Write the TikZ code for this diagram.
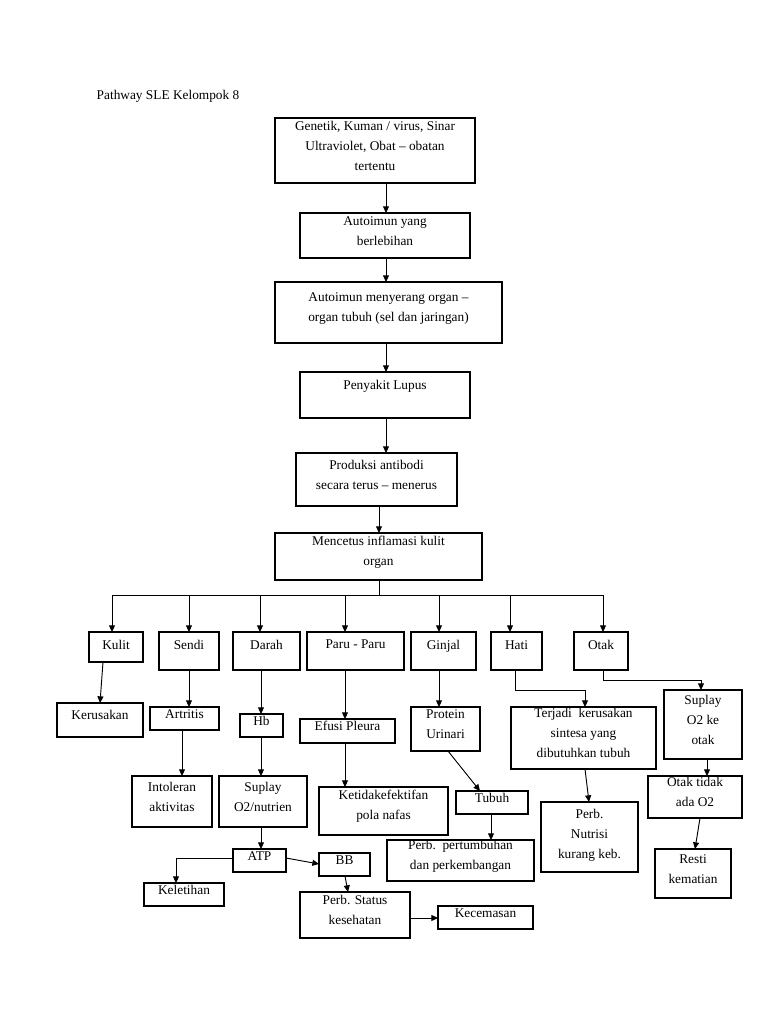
\documentclass[tikz,border=0pt]{standalone}
\usepackage{fontspec}
\setmainfont{Liberation Serif}
\usetikzlibrary{fit,arrows.meta}
\newcommand{\mybox}[6]{\node[bx, fit={(#2,#3)(#4,#5)}] (#1) {#6};}
\newcommand{\topbox}[6]{\node[bx, fit={(#2,#3)(#4,#5)}, label={[anchor=north,yshift=-3pt,font=\fontsize{10}{15}\selectfont]north:#6}] (#1) {};}
\begin{document}
\begin{tikzpicture}[x=0.75pt,y=-0.75pt,
  bx/.style={draw, line width=0.8pt, inner sep=0pt, align=center, font=\fontsize{10}{15}\selectfont},
  ar/.style={draw, line width=0.7pt, -{Triangle[length=5pt,width=4.5pt]}}]
\useasboundingbox (0,0) rectangle (768,1024);
\node[anchor=west, font=\fontsize{10}{12}\selectfont] (title) at (92,96) {Pathway SLE Kelompok 8};

\mybox{b1}{275}{118}{475}{183}{Genetik, Kuman / virus, Sinar\\Ultraviolet, Obat -- obatan\\tertentu}
\mybox{b2}{300}{213}{470}{258}{Autoimun yang\\berlebihan}
\mybox{b3}{275}{282}{502}{343}{Autoimun menyerang organ --\\organ tubuh (sel dan jaringan)}
\topbox{b4}{300}{372}{470}{418}{Penyakit Lupus}
\mybox{b5}{296}{453}{457}{506}{Produksi antibodi\\secara terus -- menerus}
\mybox{b6}{275}{533}{482}{580}{Mencetus inflamasi kulit\\organ}

\draw[ar] (386,183) -- (386,213);
\draw[ar] (386,258) -- (386,282);
\draw[ar] (386,343) -- (386,372);
\draw[ar] (386,418) -- (386,453);
\draw[ar] (379,506) -- (379,533);

\topbox{kulit}{89}{632}{143}{662}{Kulit}
\topbox{sendi}{159}{632}{219}{670}{Sendi}
\topbox{darah}{233}{632}{300}{670}{Darah}
\topbox{paru}{307}{632}{404}{670}{Paru - Paru}
\topbox{ginjal}{411}{632}{476}{670}{Ginjal}
\topbox{hati}{491}{632}{542}{670}{Hati}
\topbox{otak}{574}{632}{628}{670}{Otak}

\coordinate (hb) at (379,595);
\draw[line width=0.7pt] (b6.south -| hb) -- (hb);
\draw[line width=0.7pt] (112,595) -- (603,595);
\foreach \n/\x in {kulit/112,sendi/189,darah/260,paru/345,ginjal/439,hati/510,otak/603}
  \draw[ar] (\x,595) -- (\x,632);

\mybox{kerusakan}{57}{703}{143}{737}{Kerusakan}
\mybox{artritis}{150}{707}{219}{730}{Artritis}
\mybox{hbx}{240}{714}{283}{737}{Hb}
\mybox{efusi}{300}{719}{395}{743}{Efusi Pleura}
\mybox{protein}{411}{707}{480}{751}{Protein\\Urinari}
\mybox{terjadi}{511}{707}{656}{769}{Terjadi\ \ kerusakan\\sintesa yang\\dibutuhkan tubuh}
\mybox{suplayotak}{664}{690}{742}{759}{Suplay\\O2 ke\\otak}

\draw[ar] (103,662) -- (100,703);
\draw[ar] (189,670) -- (189,707);
\draw[ar] (261,670) -- (261,714);
\draw[ar] (345,670) -- (345,719);
\draw[ar] (439,670) -- (439,707);
\draw[ar] (515,670) -- (515,690) -- (585,690) -- (585,707);
\draw[ar] (603,670) -- (603,680) -- (701,680) -- (701,690);

\mybox{intoleran}{132}{776}{212}{827}{Intoleran\\aktivitas}
\mybox{suplay}{219}{776}{307}{827}{Suplay\\O2/nutrien}
\mybox{ketidak}{319}{787}{448}{835}{Ketidakefektifan\\pola nafas}
\mybox{tubuh}{456}{791}{528}{814}{Tubuh}
\node[bx, fit={(541,802)(638,872)}] (nutrisi) {};
\node[anchor=north, align=center, font=\fontsize{10}{15}\selectfont] (nutrisitxt) at ([yshift=-2pt]nutrisi.north) {Perb.\\Nutrisi\\kurang keb.};
\mybox{otaktidak}{648}{776}{742}{818}{Otak tidak\\ada O2}
\mybox{resti}{655}{849}{731}{898}{Resti\\kematian}
\mybox{pertumbuhan}{387}{840}{534}{881}{Perb.\ \ pertumbuhan\\dan perkembangan}

\draw[ar] (182,730) -- (182,776);
\draw[ar] (261,737) -- (261,776);
\draw[ar] (345,743) -- (345,787);
\draw[ar] (448,751) -- (480,791);
\draw[ar] (585,769) -- (589,802);
\draw[ar] (707,759) -- (707,776);
\draw[ar] (700,818) -- (695,849);
\draw[ar] (491,814) -- (491,840);

\mybox{atp}{233}{849}{286}{872}{ATP}
\mybox{keletihan}{144}{883}{224}{906}{Keletihan}
\mybox{bb}{319}{853}{370}{876}{BB}
\mybox{status}{300}{892}{410}{938}{Perb. Status\\kesehatan}
\mybox{kecemasan}{438}{906}{533}{929}{Kecemasan}

\draw[ar] (261,827) -- (261,849);
\draw[ar] (233,858) -- (176,858) -- (176,883);
\draw[ar] (286,858) -- (319,864);
\draw[ar] (345,876) -- (348,892);
\draw[ar] (410,918) -- (438,918);
\end{tikzpicture}
\end{document}
